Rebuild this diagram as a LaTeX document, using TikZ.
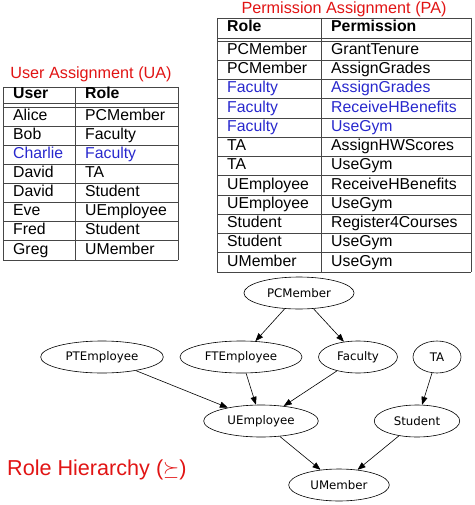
\documentclass[tikz,border=0pt]{standalone}
\usepackage{fontspec}
\setmainfont{Liberation Sans}
\newfontfamily\graphFont{DejaVu Sans}
\usetikzlibrary{shapes.geometric, arrows.meta, positioning}
\definecolor{titleRed}{RGB}{225,20,20}
\definecolor{rowBlue}{RGB}{40,40,205}
\definecolor{ruleGray}{RGB}{70,70,70}
\newcommand{\uaRowHeight}{19.125}
\newcommand{\paRowHeight}{19.25}
\tikzstyle{cell}=[anchor=mid west, inner sep=0pt, font=\fontsize{15.8}{18}\selectfont]
\tikzstyle{headCell}=[cell, font=\fontsize{15.8}{18}\selectfont\bfseries]
\tikzstyle{tableTitle}=[text=titleRed, inner sep=0pt, font=\fontsize{16.2}{19}\selectfont]
\tikzstyle{rule}=[draw=ruleGray, line width=0.8pt]
\tikzstyle{every role}=[ellipse, draw, line width=0.6pt, minimum height=32pt, minimum width=48pt, inner xsep=7pt, font=\graphFont\fontsize{11.8}{14}\selectfont]
\tikzstyle{roleEdge}=[-{Triangle[length=8pt,width=6pt]}, line width=0.6pt]
\newcommand\uaRow{}
\def\uaRow(#1)#2#3#4{%
  \node[cell, text=#2] (ua#1User) at (13, {107+(#1-0.5)*\uaRowHeight+1}) {#3};
  \node[cell, text=#2] (ua#1Role) at (85, {107+(#1-0.5)*\uaRowHeight+1}) {#4};
  \draw[rule] (3, {107+#1*\uaRowHeight}) -- (178, {107+#1*\uaRowHeight});
}
\newcommand\paRow{}
\def\paRow(#1)#2#3#4{%
  \node[cell, text=#2] (pa#1Role) at (227, {41+(#1-0.5)*\paRowHeight+1}) {#3};
  \node[cell, text=#2] (pa#1Perm) at (331, {41+(#1-0.5)*\paRowHeight+1}) {#4};
  \draw[rule] (217, {41+#1*\paRowHeight}) -- (471, {41+#1*\paRowHeight});
}

\begin{document}
\begin{tikzpicture}[x=1pt, y=-1pt]
  \useasboundingbox (0,0) rectangle (474,505);
  % user assignment
  \node[tableTitle] (uaTitle) at (91,74) {User Assignment (UA)};
  \draw[rule] (3,87) -- (178,87) (3,103) -- (178,103) (3,107) -- (178,107);
  \draw[rule] (3,87) -- (3,260) (75,87) -- (75,260) (178,87) -- (178,260);
  \node[headCell] (uaHeadUser) at (13,96) {User};
  \node[headCell] (uaHeadRole) at (85,96) {Role};
  \uaRow(1){black}{Alice}{PCMember}
  \uaRow(2){black}{Bob}{Faculty}
  \uaRow(3){rowBlue}{Charlie}{Faculty}
  \uaRow(4){black}{David}{TA}
  \uaRow(5){black}{David}{Student}
  \uaRow(6){black}{Eve}{UEmployee}
  \uaRow(7){black}{Fred}{Student}
  \uaRow(8){black}{Greg}{UMember}
  % permission assignment
  \node[tableTitle] (paTitle) at (344,9) {Permission Assignment (PA)};
  \draw[rule] (217,18) -- (471,18) (217,38) -- (471,38) (217,41) -- (471,41);
  \draw[rule] (217,18) -- (217,272) (321,18) -- (321,272) (471,18) -- (471,272);
  \node[headCell] (paHeadRole) at (227,29) {Role};
  \node[headCell] (paHeadPerm) at (331,29) {Permission};
  \paRow(1){black}{PCMember}{GrantTenure}
  \paRow(2){black}{PCMember}{AssignGrades}
  \paRow(3){rowBlue}{Faculty}{AssignGrades}
  \paRow(4){rowBlue}{Faculty}{ReceiveHBenefits}
  \paRow(5){rowBlue}{Faculty}{UseGym}
  \paRow(6){black}{TA}{AssignHWScores}
  \paRow(7){black}{TA}{UseGym}
  \paRow(8){black}{UEmployee}{ReceiveHBenefits}
  \paRow(9){black}{UEmployee}{UseGym}
  \paRow(10){black}{Student}{Register4Courses}
  \paRow(11){black}{Student}{UseGym}
  \paRow(12){black}{UMember}{UseGym}
  % role hierarchy
  \node[every role] (pcMember) at (299,293) {PCMember};
  \node[every role] (ptEmployee) at (102,357) {PTEmployee};
  \node[every role] (ftEmployee) at (241,357) {FTEmployee};
  \node[every role] (faculty) at (358,357) {Faculty};
  \node[every role] (ta) at (437,357) {TA};
  \node[every role] (uEmployee) at (261,421) {UEmployee};
  \node[every role] (student) at (417,421) {Student};
  \node[every role] (uMember) at (339,485) {UMember};
  \draw[roleEdge] (pcMember) -- (ftEmployee);
  \draw[roleEdge] (pcMember) -- (faculty);
  \draw[roleEdge] (ptEmployee) -- (uEmployee);
  \draw[roleEdge] (ftEmployee) -- (uEmployee);
  \draw[roleEdge] (faculty) -- (uEmployee);
  \draw[roleEdge] (ta) -- (student);
  \draw[roleEdge] (uEmployee) -- (uMember);
  \draw[roleEdge] (student) -- (uMember);
  \node[tableTitle, anchor=west, font=\fontsize{21.6}{25}\selectfont] (rhTitle) at (7,470) {Role Hierarchy ($\succeq$)};
\end{tikzpicture}
\end{document}
